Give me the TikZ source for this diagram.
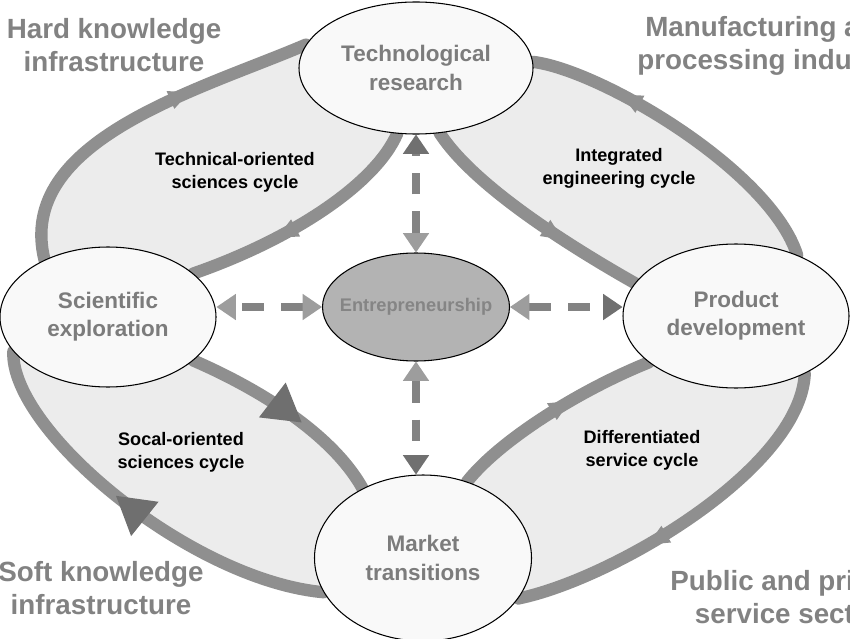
\documentclass[tikz,border=0pt]{standalone}
\usepackage{fontspec}
\setmainfont{Liberation Sans}
\usepackage{xcolor}
\usepackage{tikz}
\usetikzlibrary{arrows.meta, positioning, shapes.geometric, decorations.markings, backgrounds}

\definecolor{stagefill}{HTML}{F9F9F9}
\definecolor{stagetext}{HTML}{7C7C7C}
\definecolor{hubfill}{HTML}{B3B3B3}
\definecolor{hubtext}{HTML}{858585}
\definecolor{zonetext}{HTML}{828282}
\definecolor{leaffill}{HTML}{ECECEC}
\definecolor{bandgray}{HTML}{8F8F8F}
\definecolor{bigtip}{HTML}{6F6F6F}
\definecolor{linkgray}{HTML}{838383}
\definecolor{headlight}{HTML}{9D9D9D}
\definecolor{headdark}{HTML}{707070}

\begin{document}
\begin{tikzpicture}[x=0.2mm, y=-0.2mm,
    stage/.style={ellipse, draw=black, line width=0.6pt, fill=stagefill, inner sep=0pt, align=center, text=stagetext, font=\fontsize{12.8}{16}\selectfont\bfseries},
    hub/.style={stage, fill=hubfill, text=hubtext, inner xsep=-6pt, font=\fontsize{10.4}{12}\selectfont\bfseries},
    zone/.style={inner sep=0pt, align=center, text=zonetext, font=\fontsize{15.8}{18.7}\selectfont\bfseries},
    cyclelabel/.style={inner sep=0pt, align=center, font=\fontsize{10.3}{13}\selectfont\bfseries},
    leaf/.style={fill=leaffill},
    band/.style={color=bandgray, line width=7pt, line cap=round},
    tip at/.style={postaction={decorate}, decoration={markings, mark=at position #1 with {\arrow{Triangle[length=12pt, width=11pt, line width=0pt]}}}},
    tip back/.style={postaction={decorate}, decoration={markings, mark=at position #1 with {\arrowreversed{Triangle[length=12pt, width=11pt, line width=0pt]}}}},
    big tip at/.style={postaction={decorate}, decoration={markings, mark=at position #1 with {\arrow{Triangle[length=21pt, width=25pt, line width=0pt, color=bigtip]}}}},
    big tip back/.style={postaction={decorate}, decoration={markings, mark=at position #1 with {\arrowreversed{Triangle[length=21pt, width=25pt, line width=0pt, color=bigtip]}}}},
    link/.style={color=linkgray, line width=4pt, dash pattern=on 12.5pt off 9.5pt},
    lighthead/.tip={Triangle[length=11pt, width=15pt, line width=0pt, color=headlight]},
    darkhead/.tip={Triangle[length=11pt, width=15pt, line width=0pt, color=headdark]}]

  \useasboundingbox (0,0) rectangle (850,639);

  % the five stages
  \node[stage, minimum width=4.68cm, minimum height=2.64cm] (tech) at (416,68) {Technological\\research};
  \node[stage, minimum width=4.32cm, minimum height=2.8cm] (sci) at (108,317) {Scientific\\exploration};
  \node[stage, minimum width=4.52cm, minimum height=2.88cm] (prod) at (736,316) {Product\\development};
  \node[stage, minimum width=4.34cm, minimum height=3.32cm] (market) at (423,558) {Market\\transitions};
  \node[hub, minimum width=3.74cm, minimum height=2.16cm] (entre) at (416,307) {Entrepreneurship};

  \begin{scope}[on background layer]
    % Technical-oriented sciences cycle
    \fill[leaf] (sci.138) .. controls (15,140) and (200,90) .. (tech.168) -- (tech.254) .. controls (375,185) and (290,240) .. (sci.27) -- cycle;
    \draw[band, tip at=0.66] (sci.138) .. controls (15,140) and (200,90) .. (tech.168);
    \draw[band, tip at=0.64] (tech.254) .. controls (375,185) and (290,240) .. (sci.27);

    % Integrated engineering cycle
    \fill[leaf] (tech.3) .. controls (600,70) and (770,170) .. (prod.45) -- (prod.162) .. controls (550,235) and (470,180) .. (tech.290) -- cycle;
    \draw[band, tip back=0.28] (tech.3) .. controls (600,70) and (770,170) .. (prod.45);
    \draw[band, tip at=0.66] (tech.290) .. controls (470,180) and (550,235) .. (prod.162);

    % Differentiated service cycle
    \fill[leaf] (market.60) .. controls (500,440) and (580,390) .. (prod.208) -- (prod.320) .. controls (800,470) and (610,580) .. (market.337) -- cycle;
    \draw[band, tip at=0.6] (market.60) .. controls (500,440) and (580,390) .. (prod.208);
    \draw[band, tip back=0.37] (market.337) .. controls (610,580) and (800,470) .. (prod.320);

    % Socal-oriented sciences cycle
    \fill[leaf] (sci.333) .. controls (250,385) and (330,430) .. (market.131) -- (market.199) .. controls (190,580) and (10,430) .. (sci.200) -- cycle;
    \draw[band, big tip at=0.58] (sci.333) .. controls (250,385) and (330,430) .. (market.131);
    \draw[band, big tip back=0.44] (sci.200) .. controls (10,430) and (190,580) .. (market.199);
  \end{scope}

  % links to entrepreneurship
  \draw[link, lighthead-darkhead] (entre.north) -- (entre.north |- tech.south);
  \draw[link, lighthead-lighthead] (entre.west) -- (entre.west -| sci.east);
  \draw[link, lighthead-darkhead] (entre.east) -- (entre.east -| prod.west);
  \draw[link, lighthead-darkhead] (entre.south) -- (entre.south |- market.north);

  % cycle names
  \node[cyclelabel] (tcycle) at (235,172) {Technical-oriented\\sciences cycle};
  \node[cyclelabel] (icycle) at (619,168) {Integrated\\engineering cycle};
  \node[cyclelabel] (scycle) at (181,452) {Socal-oriented\\sciences cycle};
  \node[cyclelabel] (dcycle) at (642,450) {Differentiated\\service cycle};

  % corner labels
  \node[zone] (hard) at (114,45) {Hard knowledge\\infrastructure};
  \node[zone] (soft) at (101,588) {Soft knowledge\\infrastructure};
  \node[zone, align=left, anchor=west] (manu) at (637,46) {\hspace*{4.5pt}Manufacturing a\\processing indu};
  \node[zone, align=left, anchor=west] (public) at (670,597) {Public and pri\\\hspace*{14pt}service sect};
\end{tikzpicture}
\end{document}
